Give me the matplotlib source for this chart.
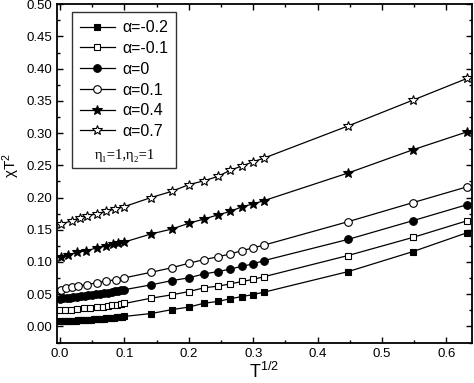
import matplotlib
matplotlib.use("Agg")
import matplotlib.pyplot as plt
from matplotlib.ticker import MultipleLocator, FormatStrFormatter
from matplotlib.lines import Line2D

plt.rcParams['font.family'] = ['Liberation Sans', 'DejaVu Sans']
plt.rcParams['mathtext.fontset'] = 'custom'
plt.rcParams['mathtext.rm'] = 'Liberation Sans'
plt.rcParams['mathtext.it'] = 'Liberation Sans:italic'
plt.rcParams['mathtext.bf'] = 'Liberation Sans:bold'

# upper x grid (T^{1/2})
x_hi = [0.1414, 0.1732, 0.2, 0.2236, 0.2449, 0.2646, 0.2828, 0.3, 0.3162, 0.4472, 0.5477, 0.6325]

# alpha = -0.2 (filled squares)
x_m02 = [0.0, 0.004, 0.008, 0.012, 0.016, 0.02, 0.024, 0.028, 0.032, 0.036, 0.04, 0.044, 0.048,
         0.052, 0.056, 0.06, 0.064, 0.068, 0.072, 0.076, 0.08, 0.084, 0.088, 0.092, 0.096, 0.1] + x_hi
y_m02 = [0.0078, 0.0080, 0.0082, 0.0084, 0.0086, 0.0088, 0.0090, 0.0092, 0.0095, 0.0097, 0.0100,
         0.0103, 0.0106, 0.0109, 0.0112, 0.0115, 0.0118, 0.0121, 0.0125, 0.0129, 0.0133, 0.0137,
         0.0141, 0.0145, 0.0150, 0.0155,
         0.0200, 0.0260, 0.0300, 0.0360, 0.0387, 0.0430, 0.0464, 0.0495, 0.0530, 0.0850, 0.1160, 0.1455]

# alpha = -0.1 (open squares)
x_m01 = [0.0, 0.008, 0.017, 0.027, 0.037, 0.047, 0.057, 0.066, 0.074, 0.081, 0.088, 0.094, 0.1] + x_hi
y_m01 = [0.0250, 0.0255, 0.0262, 0.0270, 0.0278, 0.0287, 0.0296, 0.0306, 0.0316, 0.0326, 0.0336,
         0.0346, 0.0356,
         0.0438, 0.0490, 0.0540, 0.0600, 0.0624, 0.0660, 0.0697, 0.0730, 0.0770, 0.1100, 0.1380, 0.1640]

# alpha = 0 (filled circles)
x_0 = [0.0, 0.005, 0.01, 0.015, 0.02, 0.026, 0.032, 0.038, 0.044, 0.05, 0.056, 0.062, 0.068,
       0.074, 0.08, 0.085, 0.09, 0.095, 0.1] + x_hi
y_0 = [0.0430, 0.0435, 0.0440, 0.0446, 0.0452, 0.0459, 0.0466, 0.0474, 0.0482, 0.0490, 0.0498,
       0.0507, 0.0516, 0.0525, 0.0535, 0.0544, 0.0553, 0.0562, 0.0570,
       0.0645, 0.0710, 0.0754, 0.0815, 0.0850, 0.0890, 0.0934, 0.0970, 0.1020, 0.1350, 0.1640, 0.1890]

# alpha = 0.1 (open circles)
x_01 = [0.001, 0.009, 0.018, 0.028, 0.042, 0.057, 0.071, 0.087, 0.1] + x_hi
y_01 = [0.0570, 0.0593, 0.0608, 0.0630, 0.0650, 0.0676, 0.0707, 0.0723, 0.0754,
        0.0840, 0.0910, 0.0980, 0.1037, 0.1080, 0.1125, 0.1176, 0.1220, 0.1260, 0.1625, 0.1920, 0.2167]

# alpha = 0.4 (filled stars)
x_04 = [0.001, 0.013, 0.027, 0.041, 0.058, 0.071, 0.082, 0.090, 0.1] + x_hi
y_04 = [0.1080, 0.1110, 0.1150, 0.1176, 0.1220, 0.1250, 0.1280, 0.1290, 0.1310,
        0.1435, 0.1510, 0.1600, 0.1667, 0.1730, 0.1785, 0.1858, 0.1900, 0.1950, 0.2380, 0.2740, 0.3020]

# alpha = 0.7 (open stars)
x_07 = [0.0015, 0.019, 0.031, 0.042, 0.057, 0.071, 0.085, 0.1] + x_hi
y_07 = [0.1590, 0.1640, 0.1690, 0.1720, 0.1745, 0.1785, 0.1820, 0.1860,
        0.2000, 0.2095, 0.2200, 0.2260, 0.2327, 0.2425, 0.2490, 0.2555, 0.2610, 0.3110, 0.3510, 0.3850]

labels = ['α=-0.2', 'α=-0.1', 'α=0', 'α=0.1', 'α=0.4', 'α=0.7']

fig = plt.figure(figsize=(4.74, 3.83), dpi=100)
ax = fig.add_axes([0.120, 0.104, 0.876, 0.885])

series = [
    (x_m02, y_m02, 's', 'black', 5.0),
    (x_m01, y_m01, 's', 'white', 5.0),
    (x_0, y_0, 'o', 'black', 5.5),
    (x_01, y_01, 'o', 'white', 5.5),
    (x_04, y_04, '*', 'black', 7.5),
    (x_07, y_07, '*', 'white', 7.5),
]
for (xs, ys, mk, fc, ms), lab in zip(series, labels):
    ax.plot(xs, ys, color='black', lw=0.9, marker=mk, ms=ms, mfc=fc, mec='black', mew=0.8, label=lab)

ax.set_xlim(-0.005, 0.64)
ax.set_ylim(-0.026, 0.50)
ax.xaxis.set_major_locator(MultipleLocator(0.1))
ax.xaxis.set_minor_locator(MultipleLocator(0.05))
ax.yaxis.set_major_locator(MultipleLocator(0.05))
ax.yaxis.set_minor_locator(MultipleLocator(0.025))
ax.xaxis.set_major_formatter(FormatStrFormatter('%.1f'))
ax.yaxis.set_major_formatter(FormatStrFormatter('%.2f'))
ax.tick_params(which='both', direction='in', top=True, right=True, labelsize=9.5, width=1.0)
ax.tick_params(which='major', length=4)
ax.tick_params(which='minor', length=2.5)
for s in ax.spines.values():
    s.set_linewidth(1.3)

ax.set_xlabel('T$^{1/2}$', fontsize=13, labelpad=1)
ax.set_ylabel('χT$^{2}$', fontsize=11)
ax.yaxis.set_label_coords(-0.083, 0.525)

handles, labs = ax.get_legend_handles_labels()
handles.append(Line2D([], [], color='none'))
labs.append(' ')
leg = ax.legend(handles, labs, loc='upper left', bbox_to_anchor=(0.036, 0.976), borderaxespad=0,
                fontsize=11.5, handlelength=2.2, labelspacing=0.36, handletextpad=0.45,
                frameon=True, fancybox=False, edgecolor='black', borderpad=0.5)
leg.get_frame().set_linewidth(1.0)
leg.set_zorder(5)
ax.text(0.163, 0.555, 'η\u2081=1,η\u2082=1', transform=ax.transAxes, ha='center', va='center',
        fontsize=10.5, family='Liberation Serif', zorder=10)

fig.savefig('out.png', dpi=100)
